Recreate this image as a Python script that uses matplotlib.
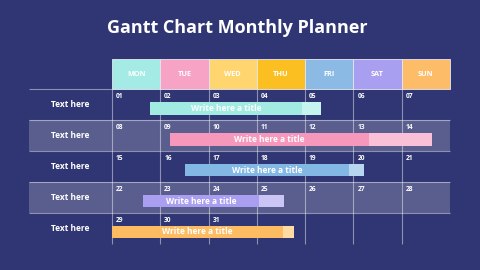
import matplotlib.pyplot as plt
from matplotlib.patches import Rectangle

# Calendar data
days = ['MON', 'TUE', 'WED', 'THU', 'FRI', 'SAT', 'SUN']
header_colors = ['#a4ebe5', '#f7a3c6', '#fed56e', '#fbbf22', '#8bbbe4', '#a99ff0', '#fdbc68']
row_labels = ['Text here', 'Text here', 'Text here', 'Text here', 'Text here']
day_numbers = [
    ['01', '02', '03', '04', '05', '06', '07'],
    ['08', '09', '10', '11', '12', '13', '14'],
    ['15', '16', '17', '18', '19', '20', '21'],
    ['22', '23', '24', '25', '26', '27', '28'],
    ['29', '30', '31'],
]

# Tasks (in day-column units, one per week row)
task_titles = ['Write here a title'] * 5
task_start = [0.79, 1.20, 1.51, 0.64, 0.00]
task_done = [3.93, 5.32, 4.91, 3.04, 3.54]
task_end = [4.33, 6.63, 5.22, 3.56, 3.77]
task_colors = ['#a2ebe3', '#f598bb', '#84b8e4', '#a99ef0', '#fdbc61']
task_light = ['#c6f4ef', '#f9c0d8', '#b7d6ef', '#cbc5f6', '#fedba3']

bg = '#303673'
fig = plt.figure(figsize=(4.8, 2.7), dpi=100, facecolor=bg)
ax = fig.add_axes([0, 0, 1, 1])
ax.set_facecolor(bg)
ax.set_xlim(-2.319, 7.621)
ax.set_ylim(5.841, -2.896)
ax.axis('off')

fig.text(0.494, 0.895, 'Gantt Chart Monthly Planner', color='white', fontsize=13,
         fontweight='bold', family='Open Sans', ha='center', va='center')

left = -1.72
n_rows = len(row_labels)

# shaded rows
for r in range(n_rows):
    if r % 2 == 1:
        ax.add_patch(Rectangle((left, r), 7 - left, 1, facecolor='white', alpha=0.2,
                               edgecolor='none', zorder=1))

# horizontal lines
ax.hlines(0, left, 0, color='white', alpha=0.45, lw=0.8, zorder=2)
ax.hlines(range(1, n_rows), left, 7, color='white', alpha=0.45, lw=0.8, zorder=2)
# vertical lines
ax.vlines(range(0, 7), 0, n_rows, color='white', alpha=0.45, lw=0.8, zorder=2)

# header cells
for i, (d, c) in enumerate(zip(days, header_colors)):
    ax.add_patch(Rectangle((i, -0.98), 1, 0.98, facecolor=c, edgecolor='#e8e8f0',
                           lw=0.6, zorder=3))
    ax.text(i + 0.5, -0.49, d, color='white', fontsize=5.3, fontweight='bold',
            family='Open Sans', ha='center', va='center', zorder=4)

# row labels and day numbers
for r, lab in enumerate(row_labels):
    ax.text(-0.87, r + 0.5, lab, color='white', fontsize=6, fontweight='bold',
            family='Open Sans', ha='center', va='center', zorder=4)
    for c, num in enumerate(day_numbers[r]):
        ax.text(c + 0.08, r + 0.24, num, color='white', fontsize=4.8, fontweight='bold',
                family='Open Sans', ha='left', va='center', zorder=4)

# task bars
for r in range(n_rows):
    y = r + 0.61
    h = 0.41
    ax.barh(y, task_done[r] - task_start[r], left=task_start[r], height=h,
            color=task_colors[r], zorder=5)
    ax.barh(y, task_end[r] - task_done[r], left=task_done[r], height=h,
            color=task_light[r], zorder=5)
    ax.text((task_start[r] + task_done[r]) / 2, y, task_titles[r], color='white',
            fontsize=6, fontweight='bold', family='Open Sans', ha='center',
            va='center', zorder=6)

fig.savefig('out.png', dpi=100, facecolor=bg)
